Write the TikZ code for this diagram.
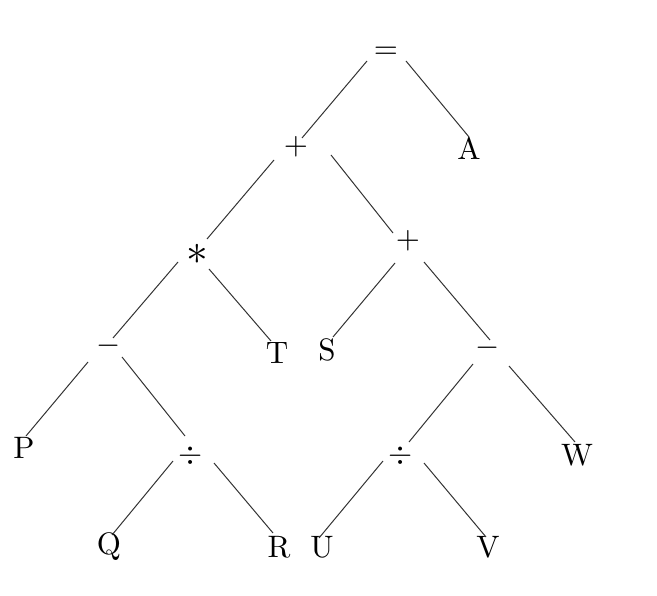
\documentclass[tikz,border=0pt]{standalone}
\begin{document}
\begin{tikzpicture}[x=1pt,y=-1pt,
  lbl/.style={inner sep=0pt,scale=3.1,font=\fontsize{10}{12}\selectfont},
  edge/.style={line width=1pt,draw=black!80}]
\useasboundingbox (0,0) rectangle (657,596);
\node[lbl] (eq) at (386,53) {$=$};
\node[lbl] (pl1) at (296,147) {$+$};
\node[lbl] (A) at (469,148) {A};
\node[lbl,scale=1.4] (st) at (197,254) {$*$};
\node[lbl] (pl2) at (408,241) {$+$};
\node[lbl] (mi1) at (109,346) {$-$};
\node[lbl] (T) at (277,353) {T};
\node[lbl] (S) at (327,350) {S};
\node[lbl] (mi2) at (488,348) {$-$};
\node[lbl] (P) at (24,448) {P};
\node[lbl] (dv1) at (191,456) {$\div$};
\node[lbl] (dv2) at (401,456) {$\div$};
\node[lbl] (W) at (577,455) {W};
\node[lbl] (Q) at (109,547) {Q};
\node[lbl] (R) at (279,547) {R};
\node[lbl] (U) at (322,547) {U};
\node[lbl] (V) at (488,547) {V};
\draw[edge] ([shift={(-19,8)}]eq.center) -- ([shift={(6,-9)}]pl1.center);
\draw[edge] ([shift={(20,8)}]eq.center) -- ([shift={(0,-11)}]A.center);
\draw[edge] ([shift={(-22,13)}]pl1.center) -- ([shift={(10,-15)}]st.center);
\draw[edge] ([shift={(35,8)}]pl1.center) -- ([shift={(-15,-8)}]pl2.center);
\draw[edge] ([shift={(-19,8)}]st.center) -- ([shift={(4,-8)}]mi1.center);
\draw[edge] ([shift={(12,15)}]st.center) -- ([shift={(-6,-12)}]T.center);
\draw[edge] ([shift={(-13,22)}]pl2.center) -- ([shift={(6,-13)}]S.center);
\draw[edge] ([shift={(16,21)}]pl2.center) -- ([shift={(2,-8)}]mi2.center);
\draw[edge] ([shift={(-21,16)}]mi1.center) -- ([shift={(2,-12)}]P.center);
\draw[edge] ([shift={(13,11)}]mi1.center) -- ([shift={(-6,-20)}]dv1.center);
\draw[edge] ([shift={(-15,16)}]mi2.center) -- ([shift={(8,-14)}]dv2.center);
\draw[edge] ([shift={(21,18)}]mi2.center) -- ([shift={(-2,-13)}]W.center);
\draw[edge] ([shift={(-18,5)}]dv1.center) -- ([shift={(3,-12)}]Q.center);
\draw[edge] ([shift={(23,7)}]dv1.center) -- ([shift={(-6,-14)}]R.center);
\draw[edge] ([shift={(-18,5)}]dv2.center) -- ([shift={(-3,-9)}]U.center);
\draw[edge] ([shift={(23,7)}]dv2.center) -- ([shift={(-2,-10)}]V.center);
\end{tikzpicture}
\end{document}
